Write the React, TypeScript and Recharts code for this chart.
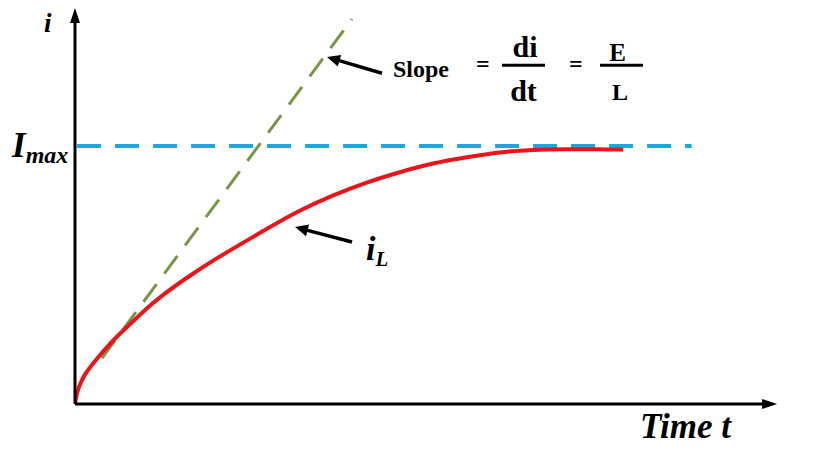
import React from "react";
import { LineChart, Line, XAxis, YAxis, ReferenceLine, ReferenceDot } from "recharts";

// ---- data (time t in units, current i relative to Imax = 1) ----
const timeValues = [0, 0.02, 0.06, 0.13, 0.26, 0.5, 0.74, 0.97, 1.21, 1.69, 2.17, 2.64, 3.21, 3.69, 4.17, 4.64, 5.11, 5.6, 6.07, 6.54, 7.03, 7.5, 7.83];
const currentValues = [0, 0.035, 0.07, 0.112, 0.159, 0.236, 0.298, 0.357, 0.415, 0.508, 0.589, 0.663, 0.752, 0.81, 0.86, 0.899, 0.934, 0.957, 0.977, 0.986, 0.988, 0.988, 0.986];
const slopeT = [0.386, 3.957];
const slopeI = [0.178, 1.492];
const imaxT = [0.03, 8.81];
const imaxValue = 1;
const xDomain = [0, 10];
const yDomain = [0, 1.535];

const curveData = timeValues.map((t, k) => ({ t, i: currentValues[k] }));
const slopeData = slopeT.map((t, k) => ({ t, i: slopeI[k] }));
const imaxData = imaxT.map((t) => ({ t, i: imaxValue }));

const FONT = "'Liberation Serif', 'Times New Roman', Times, 'DejaVu Serif', serif";
const RED = "#E8161B";
const BLUE = "#1FA5DB";
const GREEN = "#7A9549";

const makeArrow = (headLen: number, half: number, width: number, color: string) => (p: any) => {
  const { x1, y1, x2, y2 } = p;
  const dx = x2 - x1;
  const dy = y2 - y1;
  const len = Math.hypot(dx, dy) || 1;
  const ux = dx / len;
  const uy = dy / len;
  const bx = x2 - ux * headLen;
  const by = y2 - uy * headLen;
  const nx = -uy;
  const ny = ux;
  return (
    <g>
      <line x1={x1} y1={y1} x2={bx + ux * 2} y2={by + uy * 2} stroke={color} strokeWidth={width} />
      <polygon
        points={`${x2},${y2} ${bx + nx * half},${by + ny * half} ${bx - nx * half},${by - ny * half}`}
        fill={color}
      />
    </g>
  );
};

const axisArrow = makeArrow(15, 5, 3, "#000");
const pointerArrow = makeArrow(13, 6, 3.5, "#000");

const st = { fontFamily: FONT, fontWeight: 700, fill: "#000" } as React.CSSProperties;
const sti = { ...st, fontStyle: "italic" } as React.CSSProperties;

const YLabel = (p: any) => (
  <text x={p.cx} y={p.cy} style={sti} fontSize={27}>i</text>
);
const ImaxLabel = (p: any) => (
  <text x={p.cx - 63} y={p.cy + 11} style={sti}>
    <tspan fontSize={35}>I</tspan>
    <tspan fontSize={24} dy={6}>max</tspan>
  </text>
);
const TimeLabel = (p: any) => (
  <text x={p.cx} y={p.cy} style={sti} fontSize={35}>Time t</text>
);
const ILLabel = (p: any) => (
  <text x={p.cx} y={p.cy} style={sti}>
    <tspan fontSize={34}>i</tspan>
    <tspan fontSize={21} dy={6}>L</tspan>
  </text>
);
const EquationLabel = (p: any) => (
  <g transform={`translate(${p.cx},${p.cy})`}>
    <text x={0} y={0} style={st} fontSize={24}>Slope</text>
    <text x={83} y={-5} style={st} fontSize={24}>=</text>
    <text x={132} y={-20} style={st} fontSize={30} textAnchor="middle">di</text>
    <line x1={109} y1={-12} x2={152} y2={-12} stroke="#000" strokeWidth={3} />
    <text x={130.5} y={24} style={st} fontSize={30} textAnchor="middle">dt</text>
    <text x={176} y={-5} style={st} fontSize={24}>=</text>
    <text x={224.5} y={-16} style={st} fontSize={25} textAnchor="middle">E</text>
    <line x1={207} y1={-12} x2={250} y2={-12} stroke="#000" strokeWidth={3} />
    <text x={227} y={23} style={st} fontSize={24} textAnchor="middle">L</text>
  </g>
);

export default function App() {
  return (
    <div style={{ position: "absolute", left: 0, top: 0, width: 819, height: 450, background: "#fff" }}>
      <LineChart width={819} height={450} margin={{ top: 8, right: 44, bottom: 46, left: 75 }}>
        <XAxis type="number" dataKey="t" domain={xDomain} hide allowDataOverflow />
        <YAxis type="number" dataKey="i" domain={yDomain} hide allowDataOverflow />

        <Line data={imaxData} dataKey="i" stroke={BLUE} strokeWidth={4} strokeDasharray="24 14" dot={false} isAnimationActive={false} />
        <Line data={slopeData} dataKey="i" stroke={GREEN} strokeWidth={3} strokeDasharray="22 13" dot={false} isAnimationActive={false} />
        <Line data={curveData} dataKey="i" type="basis" stroke={RED} strokeWidth={4} dot={false} isAnimationActive={false} />

        <ReferenceLine segment={[{ x: 0, y: 0 }, { x: 10.03, y: 0 }]} ifOverflow="visible" shape={axisArrow} />
        <ReferenceLine segment={[{ x: 0, y: 0 }, { x: 0, y: 1.535 }]} ifOverflow="visible" shape={axisArrow} />
        <ReferenceLine segment={[{ x: 4.386, y: 1.282 }, { x: 3.6, y: 1.345 }]} ifOverflow="visible" shape={pointerArrow} />
        <ReferenceLine segment={[{ x: 3.957, y: 0.628 }, { x: 3.143, y: 0.686 }]} ifOverflow="visible" shape={pointerArrow} />

        <ReferenceDot x={-0.443} y={1.442} r={0} ifOverflow="visible" shape={YLabel} />
        <ReferenceDot x={0} y={imaxValue} r={0} ifOverflow="visible" shape={ImaxLabel} />
        <ReferenceDot x={8.071} y={-0.132} r={0} ifOverflow="visible" shape={TimeLabel} />
        <ReferenceDot x={4.157} y={0.558} r={0} ifOverflow="visible" shape={ILLabel} />
        <ReferenceDot x={4.543} y={1.267} r={0} ifOverflow="visible" shape={EquationLabel} />
      </LineChart>
    </div>
  );
}
